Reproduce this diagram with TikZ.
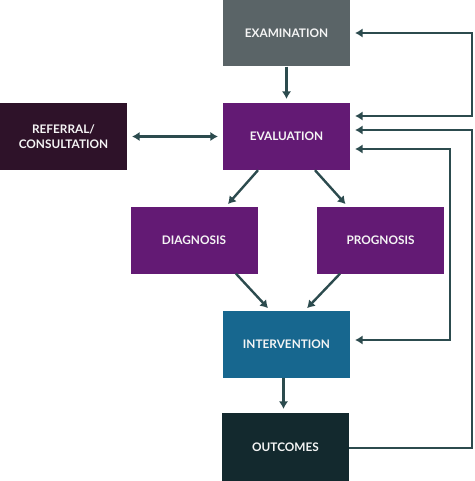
\documentclass[tikz,border=0pt]{standalone}
\usepackage{fontspec}
\setmainfont{Lato}
\usepackage{tikz}
\usetikzlibrary{arrows.meta,positioning}
\definecolor{examgray}{HTML}{5A6467}
\definecolor{evalpurple}{HTML}{631A74}
\definecolor{referraldark}{HTML}{2E1229}
\definecolor{intervblue}{HTML}{17678F}
\definecolor{outcdark}{HTML}{13292E}
\definecolor{linkcol}{HTML}{2C4B4E}
\tikzset{
	box/.style={rectangle,align=center,minimum width=127pt,minimum height=67pt,inner sep=0pt,text=white!92!gray,font=\bfseries\fontsize{11.8}{14.5}\selectfont},
	link/.style={draw=linkcol,line width=2.4pt},
	>={Latex[length=7.5pt,width=9.5pt]}
}
\begin{document}
\begin{tikzpicture}[x=1pt,y=-1pt]
			\useasboundingbox (0,0) rectangle (474,481);

			\node[box,fill=examgray] (exam) at (286.5, 33) {EXAMINATION};

			\node[box,fill=evalpurple] (eval) at (286.5, 136.5) {EVALUATION};

			\node[box,fill=referraldark] (refer) at (63.5, 136.5) {REFERRAL/\\CONSULTATION};

			\node[box,fill=evalpurple] (diag) at (194, 240) {DIAGNOSIS};

			\node[box,fill=evalpurple] (prog) at (380.5, 240) {PROGNOSIS};

			\node[box,fill=intervblue] (interv) at (286.5, 344) {INTERVENTION};

			\node[box,fill=outcdark,minimum height=68pt] (outc) at (285.5, 447) {OUTCOMES};

			\coordinate (R1) at (472, 33);
			\coordinate (R2) at (472, 116);
			\coordinate (R3) at (472, 130);
			\coordinate (R4) at (472, 448);
			\coordinate (S1) at (450, 149);
			\coordinate (S2) at (450, 340);

			\draw[link,->,shorten >=4pt] (exam) -- (eval);
			\draw[link,<->,shorten >=5pt,shorten <=5pt] (refer) -- (eval);
			\draw[link,->,shorten >=3pt] ([xshift=-28.5pt]eval.south) -- ([xshift=32pt]diag.north);
			\draw[link,->,shorten >=3pt] ([xshift=28.5pt]eval.south) -- ([xshift=-33pt]prog.north);
			\draw[link,->,shorten >=3pt] ([xshift=42pt]diag.south) -- ([xshift=-16.5pt]interv.north);
			\draw[link,->,shorten >=3pt] ([xshift=-40.5pt]prog.south) -- ([xshift=18.5pt]interv.north);
			\draw[link,->,shorten >=4pt] ([xshift=-3pt]interv.south) -- ([xshift=-2pt]outc.north);
			\draw[link,<->] ([xshift=5pt]exam.east) -- (R1) -- (R2) -- ([xshift=5pt,yshift=20.5pt]eval.east);
			\draw[link,->] (outc.east |- R4) -- (R4) -- (R3) -- ([xshift=5pt,yshift=6.5pt]eval.east);
			\draw[link,<->] ([xshift=5pt,yshift=-12.5pt]eval.east) -- (S1) -- (S2) -- ([xshift=5pt,yshift=4pt]interv.east);
		\end{tikzpicture}
\end{document}
